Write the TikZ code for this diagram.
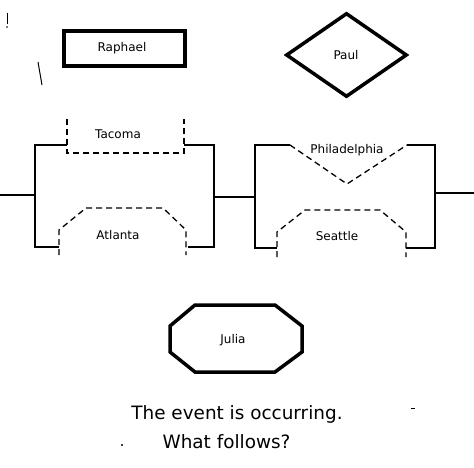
\documentclass[tikz,border=0pt]{standalone}
\usepackage{fontspec}
\setmainfont{DejaVu Sans}
\usetikzlibrary{shapes.geometric}
\tikzset{
  thickshape/.style={draw, line width=3.5pt, inner sep=0pt},
  thickline/.style={line width=3.5pt, line join=miter},
  lbl/.style={font=\fontsize{12}{14}\selectfont, inner sep=0pt},
  wall/.style={line width=1.3pt},
  dsh/.style={line width=1.3pt, dash pattern=on 6pt off 4pt},
  conn/.style={line width=1.3pt},
  noise/.style={line width=1pt},
  big/.style={font=\fontsize{18.4}{22}\selectfont, inner sep=0pt}
}
\begin{document}
\begin{tikzpicture}[x=1pt,y=-1pt]
\useasboundingbox (0,0) rectangle (474,468);
% top nodes
\node[thickshape, rectangle, minimum width=121pt, minimum height=35pt] (raphael) at (124.5,48.5) {};
\node[lbl] (raphaelt) at (122,48) {Raphael};
\node[thickshape, diamond, minimum width=121pt, minimum height=84pt, aspect=1.44] (paul) at (346.5,55) {};
\node[lbl] (pault) at (346,55) {Paul};
% octagon
\draw[thickline] (195,305) -- (275,305) -- (302,326) -- (302,352) -- (275,372)
  -- (195,372) -- (170,352) -- (170,326) -- cycle;
\node[lbl] (julia) at (233,340) {Julia};
% left structure
\coordinate (inL) at (0,195);
\coordinate (lw) at (35,195);
\draw[wall] (67,145) -- (35,145) -- (35,247) -- (59,247);
\draw[wall] (184,145) -- (214,145) -- (214,247) -- (188,247);
\draw[dsh] (67,119) -- (67,153) -- (184,153) -- (184,119);
\draw[dsh] (59,255) -- (59,230) -- (86,208) -- (163,208) -- (186,230) -- (186,255);
\node[lbl] (tacoma) at (118,134) {Tacoma};
\node[lbl] (atlanta) at (118,235) {Atlanta};
% right structure
\draw[wall] (290,145) -- (255,145) -- (255,248) -- (277,248);
\draw[wall] (407,145) -- (435,145) -- (435,248) -- (406,248);
\draw[dsh] (290,145) -- (347,184) -- (407,145);
\draw[dsh] (277,257) -- (277,232) -- (305,210) -- (380,210) -- (406,232) -- (406,257);
\node[lbl] (phila) at (347,150) {Philadelphia};
\node[lbl] (seattle) at (337,236) {Seattle};
% connectors
\coordinate (lwr) at (214,197);
\coordinate (rwl) at (255,197);
\coordinate (rwr) at (435,193);
\coordinate (outR) at (474,193);
\draw[conn] (inL) -- (lw);
\draw[conn] (lwr) -- (rwl);
\draw[conn] (rwr) -- (outR);
% text
\node[big] (l1) at (237,414) {The event is occurring.};
\node[big] (l2) at (226.5,442) {What follows?};
% stray marks
\draw[noise] (7,13) -- (7,24);
\fill (7,27) circle (0.8);
\draw[noise] (38,62) -- (42,85);
\fill (122,445) circle (1.2);
\draw[noise] (411,408) -- (415,408);
\end{tikzpicture}
\end{document}
